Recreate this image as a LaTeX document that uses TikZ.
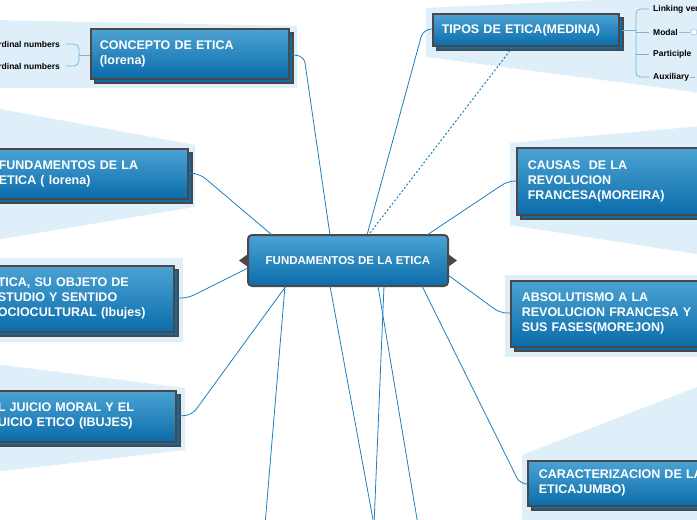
\documentclass[tikz,border=0pt]{standalone}
\usepackage{fontspec}
\setmainfont{Liberation Sans}
\usetikzlibrary{shadows}
\definecolor{bgl}{HTML}{DEEFFA}
\definecolor{ln}{HTML}{1A80C0}
\definecolor{bd}{HTML}{4D4848}
\definecolor{topc}{HTML}{4BA3D3}
\definecolor{botc}{HTML}{0B6CAA}
\tikzset{
 box/.style={rectangle,draw=bd,line width=1.6pt,top color=topc,bottom color=botc,text=white,
  font=\fontsize{12.5}{15}\selectfont\bfseries,align=left,anchor=north west,inner xsep=9pt,
  copy shadow={shadow xshift=4pt,shadow yshift=-4pt,fill=botc,draw=bd,line width=1.6pt}},
 conn/.style={draw=ln,line width=0.8pt,rounded corners=7pt},
 sub/.style={font=\fontsize{8.5}{10}\selectfont\bfseries,anchor=west,inner sep=1pt},
}
\begin{document}
\begin{tikzpicture}[x=1pt,y=-1pt]
\useasboundingbox (0,0) rectangle (697,520);
\clip (0,0) rectangle (697,520);
% backgrounds
\fill[bgl] (-5,20) -- (297,26) -- (297,88) -- (-5,88) -- cycle;
\fill[bgl] (-5,108) -- (195,145) -- (195,207) -- (-5,240) -- cycle;
\fill[bgl] (-5,258) rectangle (183,342);
\fill[bgl] (-5,364) -- (185,388) -- (185,450) -- (-5,472) -- cycle;
\fill[bgl] (426,8) -- (640,-2) -- (702,-2) -- (702,93) -- (426,57) -- cycle;
\fill[bgl] (510,143) -- (702,126) -- (702,255) -- (510,225) -- cycle;
\fill[bgl] (505,275) rectangle (702,357);
\fill[bgl] (522,455) -- (702,385) -- (702,525) -- (522,525) -- cycle;
% boxes
\node[box,text width=180pt,minimum height=50pt] (concepto) at (90,28) {CONCEPTO DE ETICA\\(lorena)};
\node[box,text width=177pt,minimum height=50pt,inner xsep=12pt] (fund) at (-14,148) {FUNDAMENTOS DE LA\\ETICA ( lorena)};
\node[box,text width=165pt,minimum height=66pt,inner xsep=11pt] (objeto) at (-14,265) {TICA, SU OBJETO DE\\STUDIO Y SENTIDO\\OCIOCULTURAL (Ibujes)};
\node[box,text width=167pt,minimum height=51pt,inner xsep=11pt] (juicio) at (-14,390) {L JUICIO MORAL Y EL\\UICIO ETICO (IBUJES)};
\node[box,text width=168pt,minimum height=32pt] (tipos) at (432,13) {TIPOS DE ETICA(MEDINA)};
\node[box,text width=190pt,minimum height=67pt,inner xsep=11pt] (causas) at (516,147) {CAUSAS\ \ DE LA\\REVOLUCION\\FRANCESA(MOREIRA)};
\node[box,text width=190pt,minimum height=66pt,inner xsep=11pt] (absol) at (510,280) {ABSOLUTISMO A LA\\REVOLUCION FRANCESA Y\\SUS FASES(MOREJON)};
\node[box,text width=190pt,minimum height=45pt,inner xsep=11pt] (carac) at (527,460) {CARACTERIZACION DE LA\\ETICAJUMBO)};
% central
\node[rectangle,rounded corners=4pt,draw=bd,line width=2pt,top color=topc,bottom color=botc,text=white,
 font=\fontsize{11.5}{13}\selectfont\bfseries,minimum width=200pt,minimum height=51pt] (c) at (348,260.5) {FUNDAMENTOS DE LA ETICA};
\fill[bd] (248,254) -- (239,260.5) -- (248,267) -- cycle;
\fill[bd] (448,254) -- (457,260.5) -- (448,267) -- cycle;
% connectors
\coordinate (b1) at (265,525); \coordinate (b2) at (374,525); \coordinate (b3) at (418,525);
\draw[conn] (330,235) -- (304,56) -- (292,55);
\draw[conn] (272,235) -- (200,174) -- (189,173);
\draw[conn] (248,268) -- (188,298) -- (177,298);
\draw[conn] (286,286) -- (192,415) -- (179,416);
\draw[conn] (367,235) -- (423,30) -- (432,29);
\draw[conn] (427,235) -- (508,181) -- (516,181);
\draw[conn] (448,275) -- (500,313) -- (510,313);
\draw[conn] (422,286) -- (520,484) -- (527,484);
\draw[conn] (285,286) -- (b1);
\draw[conn] (330,286) -- (b2);
\draw[conn] (384,286) -- (b2);
\draw[conn] (378,286) -- (b3);
\draw[draw=ln,dash pattern=on 2pt off 2pt,line width=1pt] (370,233) -- (512,48);
% tipos subs
\draw[conn,draw=ln!60,line width=0.7pt,rounded corners=0pt] (622,30) -- (636,30);
\draw[draw=ln!60,line width=0.7pt] (649,9) -- (640,9) to[out=180,in=90] (636,14) -- (636,72) to[out=-90,in=180] (640,77) -- (649,77);
\draw[draw=ln!60,line width=0.7pt] (636,54) -- (649,54);
\draw[draw=ln!60,line width=0.7pt] (636,32) -- (649,32);
\node[sub] (s1) at (652,9) {Linking verbs};
\node[sub] (s2) at (652,32) {Modal};
\node[sub] (s3) at (652,54) {Participle};
\node[sub] (s4) at (652,77) {Auxiliary};
\draw[draw=ln!50,line width=0.7pt] (s2.east) -- (690,32);
\node[circle,draw=ln!50,fill=white,inner sep=0pt,minimum size=6pt] (m) at (694,32) {};
\draw[draw=ln!50,line width=0.7pt] (s4.east) -- ++(5,0);
% concepto subs
\draw[draw=ln!60,line width=0.7pt] (66,44) -- (74,44) to[out=0,in=90] (79,49) -- (79,61) to[out=-90,in=0] (74,66) -- (66,66);
\draw[draw=ln!60,line width=0.7pt] (79,55) -- (90,55);
\node[sub,anchor=east] (o1) at (61,44) {Cardinal numbers};
\node[sub,anchor=east] (o2) at (61,66) {Ordinal numbers};
\end{tikzpicture}
\end{document}
